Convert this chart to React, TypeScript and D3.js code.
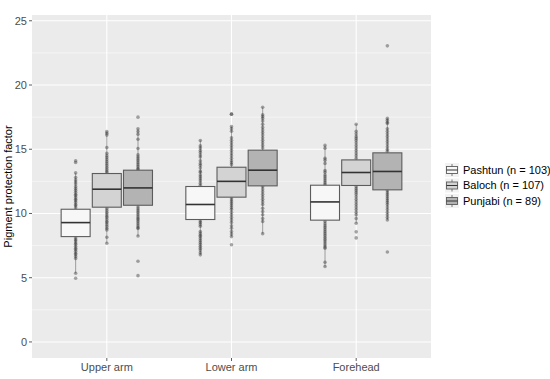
import React from 'react'
import * as d3 from 'd3'

const regions = ['Upper arm', 'Lower arm', 'Forehead']
const groups = ['Pashtun', 'Baloch', 'Punjabi']
const legendLabels = ['Pashtun (n = 103)', 'Baloch (n = 107)', 'Punjabi (n = 89)']
const fills = ['#f7f7f7', '#d3d3d3', '#b3b3b3']
const yTicks = [0, 5, 10, 15, 20, 25]

// [region][group]
const q1 = [
  [8.2, 10.49, 10.64],
  [9.53, 11.27, 12.15],
  [9.48, 12.18, 11.84],
]
const medians = [
  [9.29, 11.89, 11.99],
  [10.7, 12.5, 13.37],
  [10.9, 13.19, 13.27],
]
const q3 = [
  [10.33, 13.11, 13.37],
  [12.1, 13.6, 14.93],
  [12.2, 14.17, 14.72],
]

const upperArmPoints = [
  [14.1, 13.97, 13.16, 12.8, 12.6, 12.45, 12.3, 12.1, 11.95, 11.8, 11.65, 11.5, 11.4, 11.25, 11.1, 11.0, 10.85, 10.7, 10.6, 10.45,
    8.1, 7.95, 7.85, 7.7, 7.6, 7.45, 7.3, 7.2, 7.05, 6.9, 6.8, 6.65, 6.5, 5.35, 4.96],
  [16.38, 16.25, 16.1, 15.13, 14.69, 14.5, 14.35, 14.2, 14.05, 13.9, 13.75, 13.6, 13.45, 13.3, 13.2,
    10.4, 10.25, 10.1, 9.95, 9.8, 9.7, 9.55, 9.4, 9.3, 9.15, 9.0, 8.85, 8.72, 8.15, 7.68],
  [17.5, 16.59, 16.38, 16.17, 15.78, 15.06, 14.56, 14.4, 14.25, 14.1, 13.95, 13.8, 13.65, 13.5, 13.42,
    10.5, 10.35, 10.2, 10.05, 9.9, 9.75, 9.6, 9.5, 9.35, 9.2, 9.05, 8.9, 8.83, 8.25, 6.28, 5.16],
]
const lowerArmPoints = [
  [15.68, 15.26, 15.1, 14.9, 14.75, 14.55, 14.4, 14.1, 13.9, 13.75, 13.55, 13.3, 13.2, 13.0, 12.85, 12.7, 12.55, 12.36, 12.2,
    9.42, 9.3, 9.15, 9.0, 8.6, 8.45, 8.3, 8.2, 8.05, 7.9, 7.75, 7.6, 7.45, 7.3, 7.15, 6.95, 6.78],
  [17.73, 17.73, 16.77, 16.6, 16.4, 15.9, 15.7, 15.5, 15.3, 15.1, 14.9, 14.7, 14.5, 14.3, 14.1, 13.95, 13.8,
    11.2, 11.05, 10.9, 10.75, 10.6, 10.45, 10.3, 10.1, 9.9, 9.7, 9.5, 9.3, 9.05, 8.85, 8.6, 8.4, 8.2, 7.57],
  [18.27, 17.68, 17.55, 17.4, 17.2, 16.95, 16.7, 16.5, 16.3, 16.1, 15.9, 15.7, 15.5, 15.3, 15.1,
    12.1, 11.9, 11.7, 11.5, 11.3, 11.1, 10.9, 10.7, 10.4, 10.15, 9.9, 9.6, 9.37, 8.43],
]
const foreheadPoints = [
  [15.3, 15.08, 14.3, 14.15, 13.9, 13.35, 13.2, 13.0, 12.85, 12.7, 12.55, 12.4, 12.25,
    9.37, 9.2, 9.05, 8.9, 8.75, 8.6, 8.45, 8.3, 8.15, 8.0, 7.85, 7.7, 7.55, 7.4, 7.3, 6.2, 5.87],
  [16.95, 16.4, 16.2, 16.0, 15.85, 15.7, 15.5, 15.3, 15.1, 14.9, 14.7, 14.5, 14.3,
    12.1, 11.95, 11.8, 11.65, 11.5, 11.3, 11.1, 10.9, 10.7, 10.5, 10.3, 10.1, 9.9, 9.6, 9.24, 8.57, 8.1],
  [23.05, 17.4, 17.25, 17.1, 17.0, 16.6, 16.4, 16.2, 16.0, 15.8, 15.6, 15.4, 15.2, 15.0, 14.85,
    11.76, 11.6, 11.45, 11.3, 11.15, 11.0, 10.85, 10.7, 10.5, 10.3, 10.1, 9.9, 9.7, 9.5, 7.0],
]
const points = [upperArmPoints, lowerArmPoints, foreheadPoints]

const W = 550
const H = 379
const panel = { left: 32, right: 431, top: 15, bottom: 358 }
const font = 'Arial, "Liberation Sans", sans-serif'

export default function App() {
  const x = d3.scalePoint<string>().domain(regions).range([panel.left, panel.right]).padding(0.6)
  const step = x.step()
  const dodge = d3.scaleBand<string>().domain(groups).range([-0.375 * step, 0.375 * step])
  const boxW = dodge.bandwidth() * 0.93
  const y = d3.scaleLinear().domain([-1.25, 25.45]).range([panel.bottom, panel.top])
  const minor = d3.range(2.5, 25, 5)

  return (
    <svg width={W} height={H} style={{ position: 'absolute', left: 0, top: 0 }} fontFamily={font}>
      <rect x={0} y={0} width={W} height={H} fill="#fff" />
      <rect x={panel.left} y={panel.top} width={panel.right - panel.left} height={panel.bottom - panel.top} fill="#ebebeb" />
      {minor.map(v => (
        <line key={'mn' + v} x1={panel.left} x2={panel.right} y1={y(v)} y2={y(v)} stroke="#fff" strokeWidth={0.5} />
      ))}
      {yTicks.map(v => (
        <line key={'mj' + v} x1={panel.left} x2={panel.right} y1={y(v)} y2={y(v)} stroke="#fff" strokeWidth={1.1} />
      ))}
      {regions.map(r => (
        <line key={'vx' + r} x1={x(r)} x2={x(r)} y1={panel.top} y2={panel.bottom} stroke="#fff" strokeWidth={1.1} />
      ))}

      {regions.map((r, ri) =>
        groups.map((g, gi) => {
          const cx = (x(r) as number) + (dodge(g) as number) + dodge.bandwidth() / 2
          const pts = points[ri][gi]
          const iqr = q3[ri][gi] - q1[ri][gi]
          const inside = pts.filter(v => v >= q1[ri][gi] - 1.5 * iqr && v <= q3[ri][gi] + 1.5 * iqr)
          const wHi = d3.max(inside.filter(v => v > q3[ri][gi])) ?? q3[ri][gi]
          const wLo = d3.min(inside.filter(v => v < q1[ri][gi])) ?? q1[ri][gi]
          return (
            <g key={r + g}>
              <line x1={cx} x2={cx} y1={y(q3[ri][gi])} y2={y(wHi)} stroke="#666" strokeWidth={0.6} />
              <line x1={cx} x2={cx} y1={y(q1[ri][gi])} y2={y(wLo)} stroke="#666" strokeWidth={0.6} />
              {pts.map((v, i) => (
                <circle key={i} cx={cx} cy={y(v)} r={1.8} fill="#333" fillOpacity={0.42} />
              ))}
              <rect x={cx - boxW / 2} y={y(q3[ri][gi])} width={boxW} height={y(q1[ri][gi]) - y(q3[ri][gi])}
                fill={fills[gi]} stroke="#5c5c5c" strokeWidth={1.1} />
              <line x1={cx - boxW / 2} x2={cx + boxW / 2} y1={y(medians[ri][gi])} y2={y(medians[ri][gi])}
                stroke="#333" strokeWidth={1.6} />
            </g>
          )
        })
      )}

      {yTicks.map(v => (
        <g key={'yt' + v}>
          <line x1={panel.left - 3} x2={panel.left} y1={y(v)} y2={y(v)} stroke="#333" strokeWidth={0.8} />
          <text x={panel.left - 5} y={y(v)} dy="0.35em" textAnchor="end" fontSize={11} fill="#4d4d4d">{v}</text>
        </g>
      ))}
      {regions.map(r => (
        <g key={'xt' + r}>
          <line x1={x(r)} x2={x(r)} y1={panel.bottom} y2={panel.bottom + 3} stroke="#333" strokeWidth={0.8} />
          <text x={x(r)} y={panel.bottom + 13} textAnchor="middle" fontSize={11} fill="#4d4d4d">{r}</text>
        </g>
      ))}
      <text transform={`translate(12,${(panel.top + panel.bottom) / 2}) rotate(-90)`} textAnchor="middle" fontSize={11} fill="#000">
        Pigment protection factor
      </text>

      {legendLabels.map((lab, i) => {
        const ky = 163 + i * 15.5
        const kx = 445
        const ks = 14
        return (
          <g key={lab}>
            <rect x={kx} y={ky} width={ks} height={ks} fill="#f2f2f2" />
            <line x1={kx + ks / 2} x2={kx + ks / 2} y1={ky + 1} y2={ky + ks - 1} stroke="#5c5c5c" strokeWidth={0.8} />
            <rect x={kx + 1.5} y={ky + 3.5} width={ks - 3} height={ks - 7} fill={fills[i]} stroke="#5c5c5c" strokeWidth={0.9} />
            <line x1={kx + 1.5} x2={kx + ks - 1.5} y1={ky + ks / 2} y2={ky + ks / 2} stroke="#333" strokeWidth={1} />
            <text x={kx + ks + 4} y={ky + ks / 2} dy="0.35em" fontSize={11} fill="#000">{lab}</text>
          </g>
        )
      })}
    </svg>
  )
}
